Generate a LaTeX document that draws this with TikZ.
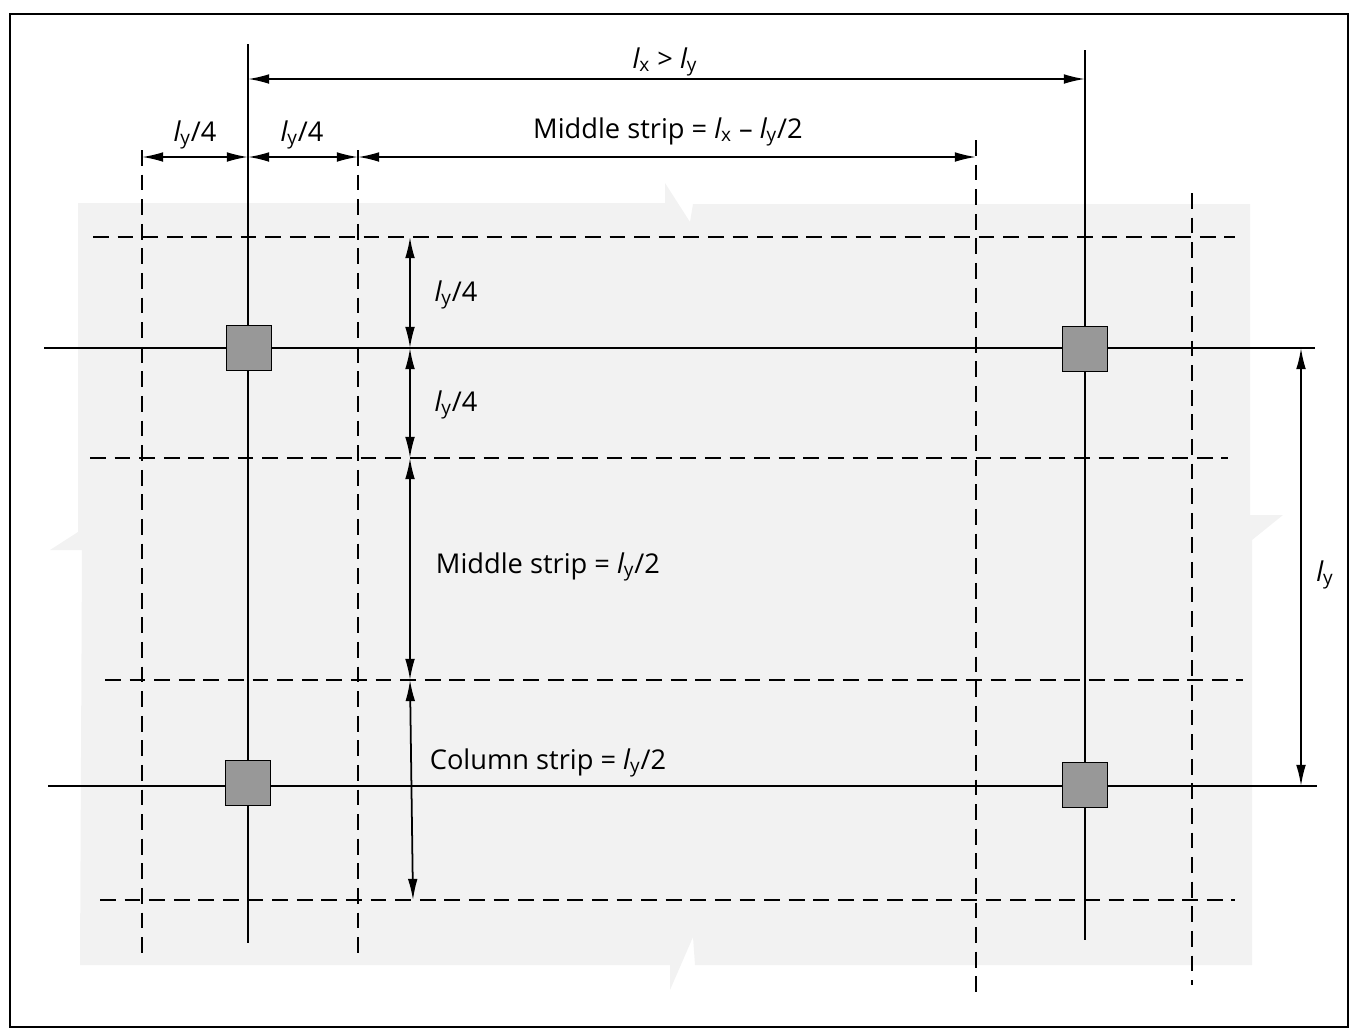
\documentclass[tikz,border=0pt]{standalone}
\usepackage{fontspec}
\setmainfont{Open Sans}
\usetikzlibrary{arrows.meta}
\begin{document}
\begin{tikzpicture}[x=0.02cm,y=-0.02cm,
  solid line/.style={line width=1.2pt},
  dash line/.style={line width=1.1pt,dash pattern=on 9pt off 5pt},
  dim/.style={line width=1pt,{Latex[length=12pt,width=5.5pt]}-{Latex[length=12pt,width=5.5pt]}},
  col/.style={draw=black,line width=1pt,fill=gray!85!black!70,minimum size=0.9cm,inner sep=0pt},
  lbl/.style={font=\fontsize{15.5pt}{18pt}\selectfont}]
\useasboundingbox (0,0) rectangle (1359,1035);
\draw[line width=1.5pt] (10,14) rectangle (1348,1027);
% slab
\fill[black!5] (78,203) -- (665,203) -- (665,183) -- (690,222) -- (693,204) -- (1250,204)
  -- (1250,515) -- (1283,515) -- (1252,540) -- (1252,965) -- (695,965) -- (693,937)
  -- (670,990) -- (670,965) -- (80,965) -- (82,550) -- (50,550) -- (78,532) -- cycle;
% dashed lines
\draw[dash line] (142,150) -- (142,960);
\draw[dash line] (358,150) -- (358,960);
\draw[dash line] (976,140) -- (976,995);
\draw[dash line] (1192,193) -- (1192,985);
\draw[dash line] (93,237) -- (1235,237);
\draw[dash line] (90,458) -- (1228,458);
\draw[dash line] (105,680) -- (1243,680);
\draw[dash line] (100,900) -- (1235,900);
% solid grid
\draw[solid line] (248,44) -- (248,943);
\draw[solid line] (1085,50) -- (1085,940);
\draw[solid line] (44,348) -- (1315,348);
\draw[solid line] (48,786) -- (1317,786);
% columns
\node[col] (c1) at (249,348) {};
\node[col] (c2) at (1085,349) {};
\node[col] (c3) at (248,783) {};
\node[col] (c4) at (1085,785) {};
% dimension coordinates
\coordinate (t1) at (248,79); \coordinate (t2) at (1085,79);
\coordinate (s1) at (142,157); \coordinate (s2) at (248,157);
\coordinate (s3) at (358,157); \coordinate (s4) at (976,157);
\coordinate (v1) at (410,237); \coordinate (v2) at (410,348);
\coordinate (v3) at (410,458); \coordinate (v4) at (410,680);
\coordinate (v5) at (413,900);
\coordinate (r1) at (1301,348); \coordinate (r2) at (1301,786);
\draw[dim] (t1) -- (t2);
\draw[dim] (s1) -- (s2);
\draw[dim] (s2) -- (s3);
\draw[dim] (s3) -- (s4);
\draw[dim] (v1) -- (v2);
\draw[dim] (v2) -- (v3);
\draw[dim] (v3) -- (v4);
\draw[dim] (v4) -- (v5);
\draw[dim] (r1) -- (r2);
% labels
\node[lbl] (L1) at (665,62) {$\mathit{l}_{\mathrm{x}}$ > $\mathit{l}_{\mathrm{y}}$};
\node[lbl] (L2) at (195,135) {$\mathit{l}_{\mathrm{y}}$/4};
\node[lbl] (L3) at (302,135) {$\mathit{l}_{\mathrm{y}}$/4};
\node[lbl] (L4) at (668,132) {Middle strip = $\mathit{l}_{\mathrm{x}}$ – $\mathit{l}_{\mathrm{y}}$/2};
\node[lbl] (L5) at (456,295) {$\mathit{l}_{\mathrm{y}}$/4};
\node[lbl] (L6) at (456,405) {$\mathit{l}_{\mathrm{y}}$/4};
\node[lbl] (L7) at (548,567) {Middle strip = $\mathit{l}_{\mathrm{y}}$/2};
\node[lbl] (L8) at (548,763) {Column strip = $\mathit{l}_{\mathrm{y}}$/2};
\node[lbl] (L9) at (1325,575) {$\mathit{l}_{\mathrm{y}}$};
\end{tikzpicture}
\end{document}
